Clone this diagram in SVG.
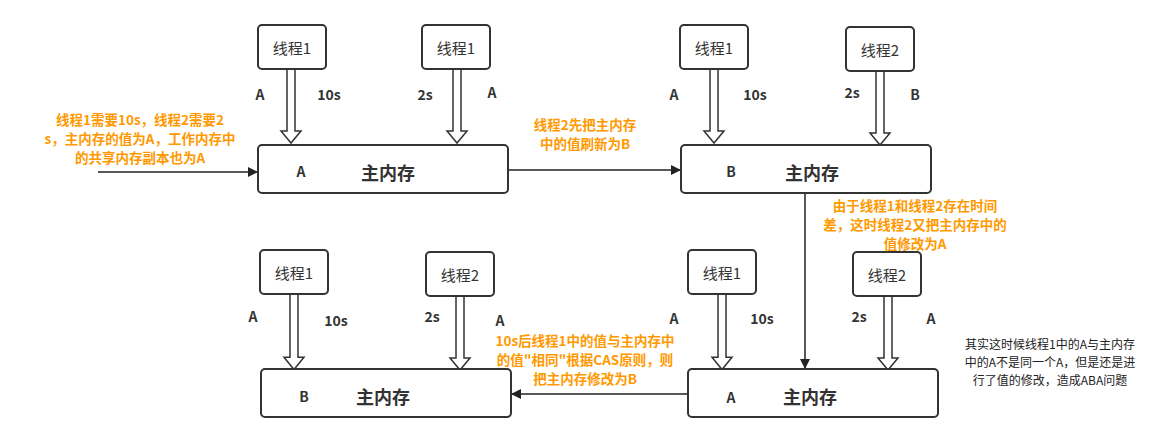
<svg xmlns="http://www.w3.org/2000/svg" xmlns:xlink="http://www.w3.org/1999/xlink" width="1171" height="443" viewBox="0 0 1171 443">
<style>
text{font-family:"Noto Sans CJK SC","Liberation Sans",sans-serif;text-anchor:middle;dominant-baseline:central}
.box{fill:#fff;stroke:#333;stroke-width:2}
.t{font-size:15px;fill:#333}
.m{font-size:18px;font-weight:bold;fill:#333}
.l{font-size:14px;font-weight:bold;fill:#333}
.o{font-size:13.5px;font-weight:bold;fill:#f90}
.n{font-size:12px;fill:#222}
.c{stroke:#222;stroke-width:1.5;fill:none}
</style>
<defs>
<path id="ha" d="M-4,0 H4 V62 H10 L0,74 L-10,62 H-4 Z" fill="#fff" stroke="#333" stroke-width="1.5"/>
<marker id="ar" markerWidth="10" markerHeight="10" refX="9" refY="5" orient="auto" markerUnits="userSpaceOnUse"><path d="M0,0 L10,5 L0,10 Z" fill="#222"/></marker>
</defs>
<g id="connectors">
<line class="c" x1="98" y1="172" x2="257" y2="172" marker-end="url(#ar)"/>
<line class="c" x1="508" y1="170" x2="680" y2="170" marker-end="url(#ar)"/>
<line class="c" x1="805" y1="193" x2="805" y2="368" marker-end="url(#ar)"/>
<line class="c" x1="688" y1="394" x2="512" y2="394" marker-end="url(#ar)"/>
<use xlink:href="#ha" transform="translate(291,69)"/>
<use xlink:href="#ha" transform="translate(457,69)"/>
<use xlink:href="#ha" transform="translate(714,69)"/>
<use xlink:href="#ha" transform="translate(880,71)"/>
<use xlink:href="#ha" transform="translate(294,294) scale(1,1.02)"/>
<use xlink:href="#ha" transform="translate(460,296)"/>
<use xlink:href="#ha" transform="translate(722,294) scale(1,1.02)"/>
<use xlink:href="#ha" transform="translate(888,296)"/>
</g>
<g id="p1t1"><rect class="box" x="258" y="25" width="68" height="44" rx="4"/><text class="t" x="292" y="47">线程1</text></g>
<g id="p1t2"><rect class="box" x="422" y="25" width="68" height="44" rx="4"/><text class="t" x="456" y="47">线程1</text></g>
<g id="p1m"><rect class="box" x="258" y="145" width="250" height="48" rx="4"/><text class="l" x="301" y="171">A</text><text class="m" x="388" y="172">主内存</text></g>
<g id="p2t1"><rect class="box" x="680" y="25" width="68" height="44" rx="4"/><text class="t" x="714" y="47">线程1</text></g>
<g id="p2t2"><rect class="box" x="846" y="27" width="68" height="44" rx="4"/><text class="t" x="880" y="49">线程2</text></g>
<g id="p2m"><rect class="box" x="681" y="145" width="250" height="48" rx="4"/><text class="l" x="731" y="171">B</text><text class="m" x="812" y="172">主内存</text></g>
<g id="p3t1"><rect class="box" x="260" y="250" width="68" height="44" rx="4"/><text class="t" x="294" y="272">线程1</text></g>
<g id="p3t2"><rect class="box" x="426" y="252" width="68" height="44" rx="4"/><text class="t" x="460" y="274">线程2</text></g>
<g id="p3m"><rect class="box" x="261" y="369" width="250" height="48" rx="4"/><text class="l" x="304" y="396">B</text><text class="m" x="383" y="396">主内存</text></g>
<g id="p4t1"><rect class="box" x="688" y="250" width="68" height="44" rx="4"/><text class="t" x="722" y="272">线程1</text></g>
<g id="p4t2"><rect class="box" x="853" y="252" width="68" height="44" rx="4"/><text class="t" x="887" y="274">线程2</text></g>
<g id="p4m"><rect class="box" x="688" y="369" width="250" height="48" rx="4"/><text class="l" x="731" y="397">A</text><text class="m" x="810" y="396">主内存</text></g>
<g id="labels">
<text class="l" x="260" y="94">A</text><text class="l" x="329" y="94">10s</text><text class="l" x="425" y="94">2s</text><text class="l" x="492" y="92">A</text>
<text class="l" x="674" y="94">A</text><text class="l" x="755" y="94">10s</text><text class="l" x="852" y="92">2s</text><text class="l" x="915" y="94">B</text>
<text class="l" x="253" y="316">A</text><text class="l" x="336" y="320">10s</text><text class="l" x="432" y="316">2s</text><text class="l" x="500" y="320">A</text>
<text class="l" x="674" y="318">A</text><text class="l" x="762" y="318">10s</text><text class="l" x="859" y="316">2s</text><text class="l" x="931" y="318">A</text>
<text class="o" x="140" y="119">线程1需要10s，线程2需要2</text>
<text class="o" x="140" y="138">s，主内存的值为A，工作内存中</text>
<text class="o" x="140" y="157">的共享内存副本也为A</text>
<text class="o" x="585" y="124">线程2先把主内存</text>
<text class="o" x="585" y="143">中的值刷新为B</text>
<text class="o" x="915" y="205">由于线程1和线程2存在时间</text>
<text class="o" x="915" y="224">差，这时线程2又把主内存中的</text>
<text class="o" x="915" y="243">值修改为A</text>
<text class="o" x="585" y="340">10s后线程1中的值与主内存中</text>
<text class="o" x="585" y="359">的值"相同"根据CAS原则，则</text>
<text class="o" x="585" y="378">把主内存修改为B</text>
<text class="n" x="1050" y="343">其实这时候线程1中的A与主内存</text>
<text class="n" x="1050" y="361">中的A不是同一个A，但是还是进</text>
<text class="n" x="1050" y="379">行了值的修改，造成ABA问题</text>
</g>
</svg>
